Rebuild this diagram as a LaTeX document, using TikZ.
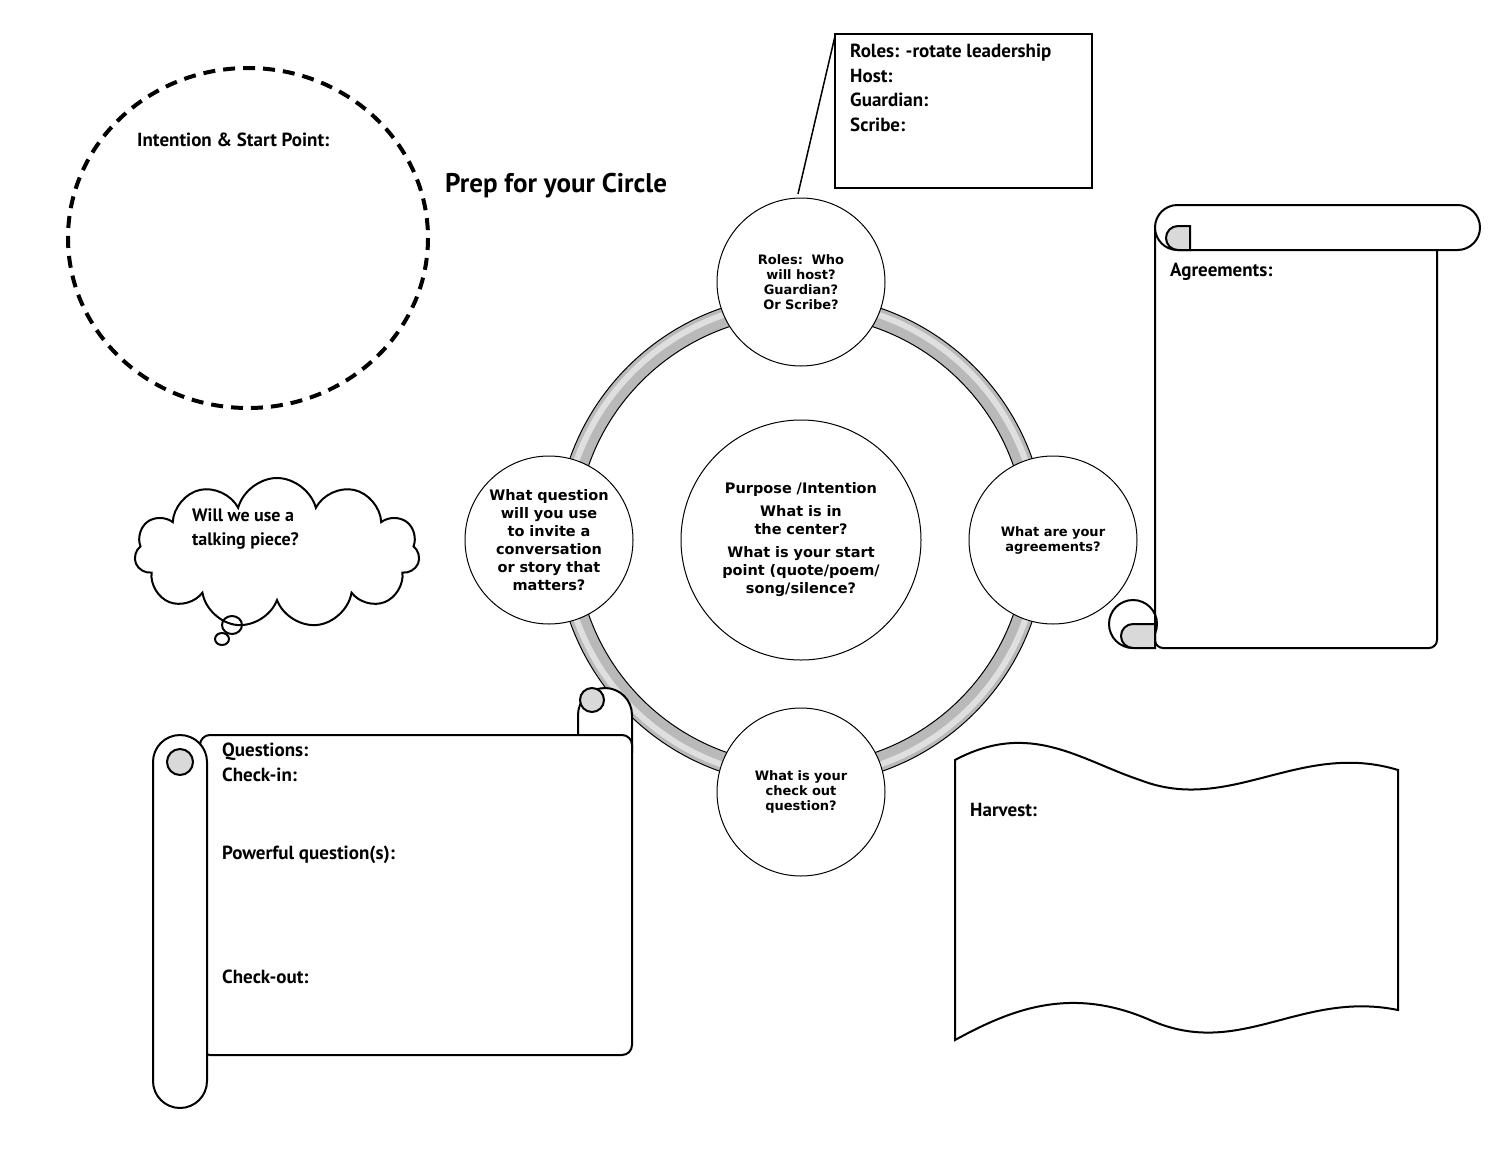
\documentclass[tikz,border=0pt]{standalone}
\usepackage{fontspec}
\setmainfont{PT Sans}
\newfontfamily\circfont{DejaVu Sans}
\usetikzlibrary{shapes.symbols}
\begin{document}
\begin{tikzpicture}[x=1pt,y=-1pt,
  lbl/.style={font=\fontsize{19}{21}\selectfont\bfseries, anchor=west, inner sep=0},
  ctext/.style={font=\circfont\fontsize{13}{15}\selectfont\bfseries, align=center, execute at begin node={\hyphenpenalty=10000}},
  smallc/.style={circle, draw, fill=white, line width=1pt, minimum size=168pt, inner sep=0, text width=118pt},
  scr/.style={draw, line width=2pt, fill=white},
  curl/.style={draw, line width=2pt, fill=gray!30}]
\useasboundingbox (0,0) rectangle (1500,1159);
% dashed circle
\draw[line width=4pt, dash pattern=on 12pt off 8pt] (248,238) ellipse (180 and 170);
\node[lbl] (intent) at (137,140) {Intention \& Start Point:};
\node[lbl, font=\fontsize{27}{30}\selectfont\bfseries] (prep) at (445,186) {Prep for your Circle};
% callout
\draw[line width=2pt, fill=white] (835,34) rectangle (1092,188);
\coordinate (tip) at (798,194);
\coordinate (cb) at (835,36);
\draw[line width=1.5pt] (tip) -- (cb);
\node[lbl, anchor=north west, align=left, font=\fontsize{19}{24.5}\selectfont\bfseries] (roles) at (850,44) {Roles: -rotate leadership\\Host:\\Guardian:\\Scribe:};
% ring
\draw[line width=20pt, gray!55] (801,540) circle (235);
\draw[line width=6pt, gray!25] (801,540) circle (238);
\draw[line width=1pt] (801,540) circle (245);
\draw[line width=1pt] (801,540) circle (225);
\node[circle, draw, fill=white, line width=1pt, minimum size=240pt, text width=165pt, ctext, font=\circfont\fontsize{14.5}{18}\selectfont\bfseries] (center) at (801,540)
 {Purpose /Intention\\[5pt]What is in the center?\\[5pt]What is your start point (quote/poem/ song/silence?};
\node[smallc, ctext] (top) at (801,282) {Roles:\ \ Who will host? Guardian? Or Scribe?};
\node[smallc, ctext] (right) at (1053,540) {What are your agreements?};
\node[smallc, ctext] (bottom) at (801,792) {What is your check out question?};
\node[smallc, ctext, font=\circfont\fontsize{14.5}{18}\selectfont\bfseries, text width=130pt] (left) at (549,540) {What question will you use to invite a conversation or story that matters?};
% agreements scroll
\draw[scr, rounded corners=8pt] (1155,228) -- (1155,648) -- (1437,648) -- (1437,228);
\draw[scr, rounded corners=22.5pt] (1155,205) rectangle (1480,250);
\draw[curl] (1178,250) arc[start angle=90, end angle=270, radius=12] -- (1190,226) -- (1190,250) -- cycle;
\draw[scr] (1133,624) circle (24);
\draw[curl] (1133,648) arc[start angle=90, end angle=270, radius=12] -- (1155,624) -- (1155,648) -- cycle;
\draw[line width=2pt] (1133,648) -- (1155,648) -- (1155,600);
\node[lbl] (agr) at (1170,272) {Agreements:};
% harvest
\draw[scr] (955,760) .. controls (1030,720) and (1080,760) .. (1140,780)
  .. controls (1230,815) and (1300,740) .. (1398,770)
  -- (1398,1010) .. controls (1300,990) and (1240,1060) .. (1150,1020)
  .. controls (1070,985) and (1010,1010) .. (955,1040) -- cycle;
\node[lbl] (harv) at (970,810) {Harvest:};
% questions scroll
\draw[scr, rounded corners=27pt] (578,688) rectangle (632,780);
\draw[scr, rounded corners=10pt] (200,735) -- (632,735) -- (632,1055) -- (200,1055) -- cycle;
\draw[curl] (592,700) circle (12);
\draw[scr, rounded corners=27pt] (153,735) rectangle (207,1108);
\draw[curl] (180,762) circle (13);
\node[lbl, anchor=north west, align=left, font=\fontsize{19}{24.5}\selectfont\bfseries] (q) at (222,743) {Questions:\\Check-in:};
\node[lbl] (pq) at (222,855) {Powerful question(s):};
\node[lbl] (co) at (222,977) {Check-out:};
% cloud
\node[cloud, draw, line width=2pt, cloud puffs=11, aspect=2, minimum width=285pt, minimum height=150pt] (cloud) at (277,553) {};
\node[lbl, anchor=north west, align=left, font=\fontsize{18}{24}\selectfont\bfseries] (talk) at (192,508) {Will we use a\\talking piece?};
\draw[line width=2pt] (232,625) ellipse (10 and 9);
\draw[line width=2pt] (222,639) ellipse (7 and 6);
\end{tikzpicture}
\end{document}
